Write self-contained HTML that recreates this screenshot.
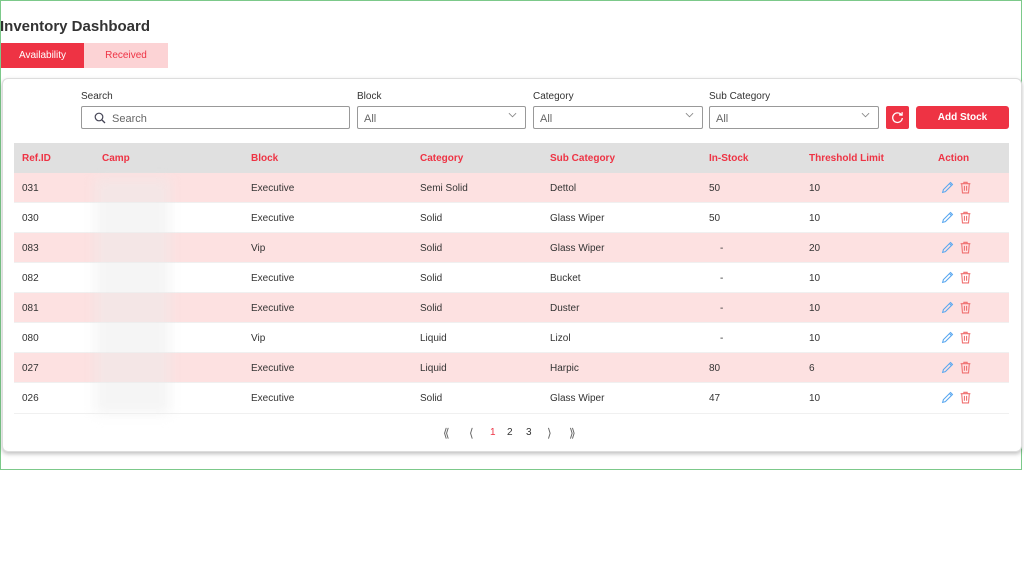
<!DOCTYPE html>
<html><head><meta charset="utf-8"><style>
*{box-sizing:border-box;margin:0;padding:0}
body{width:1024px;height:573px;background:#fff;font-family:"Liberation Sans",sans-serif;position:relative;overflow:hidden;color:#333}
.a{position:absolute;white-space:nowrap}
.frame{position:absolute;left:0;top:0;width:1022px;height:470px;border:1px solid #7cc98a}
.card{position:absolute;left:2px;top:78px;width:1020px;height:374px;border:1px solid #ddd;border-radius:6px;box-shadow:0 2px 4px rgba(0,0,0,.25);background:#fff}
.lbl{font-size:10px;color:#333}
.inp{position:absolute;height:23px;border:1px solid #999;border-radius:2px;font-size:11px;color:#666;padding:6px 6px 0}
.chev{position:absolute;right:8px;top:5px}
.hdr{position:absolute;left:14px;top:143px;width:995px;height:30px;background:#e0e0e0}
.row{position:absolute;left:14px;width:995px;height:30px;border-bottom:1px solid #f0f0f0}
.pink{background:#fde1e1}
.t{position:absolute;font-size:10px;color:#333;top:10px}
.h{position:absolute;font-size:10px;color:#ee3344;font-weight:bold;top:10px}
.ic{position:absolute;top:8px}
</style></head><body>
<svg width="0" height="0" style="position:absolute"><defs>
<symbol id="pen" viewBox="0 0 12 12"><path d="M1.5 10.5 L2.2 8 L8.8 1.4 L10.6 3.2 L4 9.8 Z M7.8 2.4 L9.6 4.2" fill="none" stroke="#5aa8f0" stroke-width="1"/></symbol>
<symbol id="bin" viewBox="0 0 12 12"><path d="M1.5 2.5 H10.5 M4.5 2.5 V1.2 H7.5 V2.5 M2.5 2.5 L3.2 11 H8.8 L9.5 2.5 M5 4.5 V9 M7 4.5 V9" fill="none" stroke="#f07070" stroke-width="1"/></symbol>
<symbol id="cv" viewBox="0 0 10 6"><path d="M1 1 L5 5 L9 1" fill="none" stroke="#888" stroke-width="1"/></symbol>
</defs></svg>
<div class="frame"></div>
<div class="a" style="left:0;top:18px;font-size:15px;font-weight:bold;color:#333">Inventory Dashboard</div>
<div class="a" style="left:1px;top:43px;width:83px;height:25px;background:#ee3344;color:#fff;font-size:10px;text-align:center;line-height:26px">Availability</div>
<div class="a" style="left:84px;top:43px;width:84px;height:25px;background:#fcd3d5;color:#ee3344;font-size:10px;text-align:center;line-height:26px">Received</div>
<div class="card"></div>
<div class="a lbl" style="left:81px;top:91px">Search</div>
<div class="inp" style="left:81px;top:106px;width:269px;padding-left:30px">Search
<svg style="position:absolute;left:12px;top:5px" width="12" height="12" viewBox="0 0 12 12"><circle cx="5" cy="5" r="3.8" fill="none" stroke="#445" stroke-width="1.2"/><path d="M8 8 L11 11" stroke="#445" stroke-width="1.3"/></svg></div>
<div class="a lbl" style="left:357px;top:91px">Block</div>
<div class="inp" style="left:357px;top:106px;width:169px">All<svg class="chev" width="9" height="6"><use href="#cv"/></svg></div>
<div class="a lbl" style="left:533px;top:91px">Category</div>
<div class="inp" style="left:533px;top:106px;width:170px">All<svg class="chev" width="9" height="6"><use href="#cv"/></svg></div>
<div class="a lbl" style="left:709px;top:91px">Sub Category</div>
<div class="inp" style="left:709px;top:106px;width:170px">All<svg class="chev" width="9" height="6"><use href="#cv"/></svg></div>
<div class="a" style="left:886px;top:106px;width:23px;height:23px;background:#ee3344;border-radius:2px">
<svg style="position:absolute;left:5px;top:5px" width="13" height="13" viewBox="0 0 13 13"><path d="M10.5 4 A4.8 4.8 0 1 0 11.3 7" fill="none" stroke="#fff" stroke-width="1.3"/><path d="M8 3.8 L11 4.2 L11.2 1.2" fill="none" stroke="#fff" stroke-width="1.3"/></svg></div>
<div class="a" style="left:916px;top:106px;width:93px;height:23px;background:#ee3344;border-radius:3px;color:#fff;font-size:10px;font-weight:bold;text-align:center;line-height:24px">Add Stock</div>
<div class="hdr">
<span class="h" style="left:8px">Ref.ID</span><span class="h" style="left:88px">Camp</span><span class="h" style="left:237px">Block</span><span class="h" style="left:406px">Category</span><span class="h" style="left:536px">Sub Category</span><span class="h" style="left:695px">In-Stock</span><span class="h" style="left:795px">Threshold Limit</span><span class="h" style="left:924px">Action</span>
</div>
<div class="row pink" style="top:173px"><span class="t" style="left:8px">031</span><span class="t" style="left:237px">Executive</span><span class="t" style="left:406px">Semi Solid</span><span class="t" style="left:536px">Dettol</span><span class="t" style="left:695px">50</span><span class="t" style="left:795px">10</span><svg class="ic" style="left:927px" width="13" height="13"><use href="#pen"/></svg><svg class="ic" style="left:945px" width="13" height="13"><use href="#bin"/></svg></div>
<div class="row" style="top:203px"><span class="t" style="left:8px">030</span><span class="t" style="left:237px">Executive</span><span class="t" style="left:406px">Solid</span><span class="t" style="left:536px">Glass Wiper</span><span class="t" style="left:695px">50</span><span class="t" style="left:795px">10</span><svg class="ic" style="left:927px" width="13" height="13"><use href="#pen"/></svg><svg class="ic" style="left:945px" width="13" height="13"><use href="#bin"/></svg></div>
<div class="row pink" style="top:233px"><span class="t" style="left:8px">083</span><span class="t" style="left:237px">Vip</span><span class="t" style="left:406px">Solid</span><span class="t" style="left:536px">Glass Wiper</span><span class="t" style="left:706px">-</span><span class="t" style="left:795px">20</span><svg class="ic" style="left:927px" width="13" height="13"><use href="#pen"/></svg><svg class="ic" style="left:945px" width="13" height="13"><use href="#bin"/></svg></div>
<div class="row" style="top:263px"><span class="t" style="left:8px">082</span><span class="t" style="left:237px">Executive</span><span class="t" style="left:406px">Solid</span><span class="t" style="left:536px">Bucket</span><span class="t" style="left:706px">-</span><span class="t" style="left:795px">10</span><svg class="ic" style="left:927px" width="13" height="13"><use href="#pen"/></svg><svg class="ic" style="left:945px" width="13" height="13"><use href="#bin"/></svg></div>
<div class="row pink" style="top:293px"><span class="t" style="left:8px">081</span><span class="t" style="left:237px">Executive</span><span class="t" style="left:406px">Solid</span><span class="t" style="left:536px">Duster</span><span class="t" style="left:706px">-</span><span class="t" style="left:795px">10</span><svg class="ic" style="left:927px" width="13" height="13"><use href="#pen"/></svg><svg class="ic" style="left:945px" width="13" height="13"><use href="#bin"/></svg></div>
<div class="row" style="top:323px"><span class="t" style="left:8px">080</span><span class="t" style="left:237px">Vip</span><span class="t" style="left:406px">Liquid</span><span class="t" style="left:536px">Lizol</span><span class="t" style="left:706px">-</span><span class="t" style="left:795px">10</span><svg class="ic" style="left:927px" width="13" height="13"><use href="#pen"/></svg><svg class="ic" style="left:945px" width="13" height="13"><use href="#bin"/></svg></div>
<div class="row pink" style="top:353px"><span class="t" style="left:8px">027</span><span class="t" style="left:237px">Executive</span><span class="t" style="left:406px">Liquid</span><span class="t" style="left:536px">Harpic</span><span class="t" style="left:695px">80</span><span class="t" style="left:795px">6</span><svg class="ic" style="left:927px" width="13" height="13"><use href="#pen"/></svg><svg class="ic" style="left:945px" width="13" height="13"><use href="#bin"/></svg></div>
<div class="row" style="top:383px;height:31px"><span class="t" style="left:8px">026</span><span class="t" style="left:237px">Executive</span><span class="t" style="left:406px">Solid</span><span class="t" style="left:536px">Glass Wiper</span><span class="t" style="left:695px">47</span><span class="t" style="left:795px">10</span><svg class="ic" style="left:927px" width="13" height="13"><use href="#pen"/></svg><svg class="ic" style="left:945px" width="13" height="13"><use href="#bin"/></svg></div>
<div class="a" style="left:95px;top:178px;width:75px;height:236px;background:rgba(235,235,235,.5);filter:blur(6px)"></div>
<div class="a" style="left:443px;top:426px;font-size:12px;color:#666">&#10218;</div>
<div class="a" style="left:469px;top:426px;font-size:12px;color:#666">&#10216;</div>
<div class="a" style="left:490px;top:427px;font-size:10px;color:#ee3344">1</div>
<div class="a" style="left:507px;top:427px;font-size:10px;color:#333">2</div>
<div class="a" style="left:526px;top:427px;font-size:10px;color:#333">3</div>
<div class="a" style="left:547px;top:426px;font-size:12px;color:#666">&#10217;</div>
<div class="a" style="left:569px;top:426px;font-size:12px;color:#666">&#10219;</div>
</body></html>
